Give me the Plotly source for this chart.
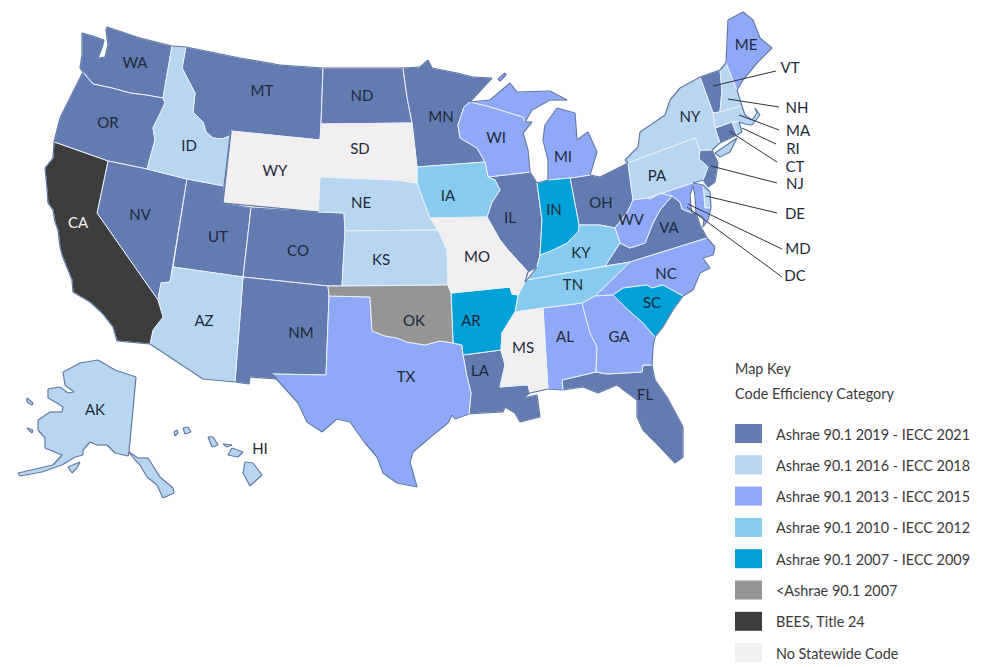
from collections import Counter

import plotly.graph_objects as go

# state outlines, in picture pixels
WA = [(82,33),(93,36),(104,40),(102,48),(98,58),(105,57),(108,45),(106,30),(107,27),(140,38),(172,46),(163,98),(146,95),(130,93),(112,88),(93,84),(88,78),(83,72),(80,68),(82,55)]
OR = [(83,72),(88,78),(93,84),(112,88),(130,93),(146,95),(163,98),(165,103),(162,110),(153,128),(155,140),(147,169),(108,161),(54,142),(60,118),(73,92)]
CA = [(54,142),(108,161),(97,213),(158,300),(163,317),(153,330),(150,344),(117,341),(113,327),(102,313),(90,302),(73,292),(72,280),(62,255),(60,247),(58,230),(55,222),(53,210),(48,203),(47,188),(45,168),(53,158)]
ID = [(172,46),(186,47),(182,68),(195,93),(193,112),(203,122),(206,132),(213,138),(222,139),(230,136),(224,186),(187,179),(147,169),(155,140),(153,128),(162,110),(165,103),(163,98)]
MT = [(186,47),(240,58),(280,65),(323,68),(321,124),(320,140),(231,131),(230,136),(222,139),(213,138),(206,132),(203,122),(193,112),(195,93),(182,68)]
WY = [(231,131),(320,140),(320,177),(318,212),(223,203)]
NV = [(108,161),(147,169),(187,179),(173,267),(170,282),(161,283),(158,300),(97,213)]
UT = [(187,179),(224,186),(223,203),(251,208),(243,277),(173,267)]
CO = [(251,208),(318,212),(344,213),(345,231),(342,286),(328,286),(243,277)]
AZ = [(173,267),(243,277),(235,382),(203,379),(150,344),(153,330),(163,317),(158,300),(161,283),(170,282)]
NM = [(243,277),(328,286),(329,296),(326,375),(272,374),(277,379),(250,377),(249,384),(235,382)]
TX = [(329,296),(370,297),(372,331),(385,336),(397,338),(407,342),(425,345),(440,341),(453,343),(462,345),(463,355),(467,377),(471,393),(469,414),(455,419),(452,415),(448,423),(433,435),(413,452),(410,462),(417,487),(397,483),(383,473),(377,457),(365,443),(350,422),(337,419),(322,432),(307,422),(298,403),(280,383),(272,374),(326,375)]
OK = [(328,286),(342,286),(448,285),(451,293),(453,343),(440,341),(425,345),(407,342),(397,338),(385,336),(372,331),(370,297),(329,296)]
KS = [(345,231),(438,230),(447,250),(448,285),(342,286)]
NE = [(320,177),(397,180),(417,183),(430,218),(438,230),(345,231),(344,213),(318,212)]
SD = [(321,124),(412,123),(417,167),(417,183),(397,180),(320,177),(320,140)]
ND = [(323,68),(403,68),(407,97),(412,123),(321,124)]
MN = [(403,68),(420,67),(428,60),(432,68),(457,73),(473,77),(492,78),(470,102),(464,107),(458,125),(460,138),(477,148),(485,162),(417,167),(412,123),(407,97)]
IA = [(417,167),(485,162),(488,177),(495,180),(500,190),(492,202),(487,217),(430,218),(417,183)]
MO = [(430,218),(487,217),(500,240),(508,250),(528,272),(525,282),(518,295),(512,294),(510,287),(451,293),(448,285),(447,250),(438,230)]
AR = [(451,293),(510,287),(512,294),(518,295),(515,312),(502,333),(501,350),(463,355),(462,345),(453,343)]
LA = [(463,355),(501,350),(505,365),(500,387),(525,385),(528,385),(530,393),(523,398),(537,395),(538,402),(540,417),(520,422),(515,413),(505,407),(503,412),(483,413),(469,414),(471,393),(467,377)]
MS = [(515,312),(543,308),(548,389),(530,393),(528,385),(525,385),(500,387),(505,365),(501,350),(502,333)]
WI = [(470,102),(487,106),(523,117),(525,122),(532,122),(523,133),(528,150),(530,172),(488,177),(485,162),(477,148),(460,138),(458,125),(464,107)]
MI = [(487,106),(470,102),(480,101),(490,100),(510,83),(517,92),(550,91),(567,100),(550,100),(532,110),(525,122),(523,117),None,
      (548,180),(548,160),(543,140),(545,125),(557,108),(575,113),(577,140),(588,132),(597,152),(590,175),(570,178),None,
      (498,79),(505,73),(506,75),(500,81)]
IL = [(488,177),(530,172),(537,183),(542,220),(540,255),(537,267),(528,272),(508,250),(500,240),(487,217),(492,202),(500,190),(495,180)]
IN = [(537,183),(548,180),(570,178),(579,225),(578,232),(567,243),(553,250),(540,255),(542,220)]
OH = [(570,178),(590,175),(600,177),(628,163),(633,200),(627,213),(615,228),(600,225),(579,225)]
KY = [(527,280),(537,267),(540,255),(553,250),(567,243),(578,232),(579,225),(600,225),(615,228),(620,243),(605,266)]
TN = [(527,280),(605,266),(630,262),(595,296),(582,303),(543,308),(515,312),(518,295),(525,282)]
AL = [(543,308),(582,303),(590,333),(597,347),(596,372),(562,380),(563,390),(548,389)]
GA = [(582,303),(595,296),(613,295),(625,307),(643,323),(655,337),(653,347),(652,365),(643,365),(642,372),(607,374),(596,372),(597,347),(590,333)]
FL = [(562,380),(596,372),(607,374),(642,372),(643,365),(652,365),(655,380),(667,397),(683,427),(683,457),(675,463),(660,447),(643,430),(637,417),(637,400),(617,385),(598,393),(583,387),(563,390)]
SC = [(613,295),(623,288),(647,285),(652,288),(663,285),(683,296),(673,310),(663,327),(655,337),(643,323),(625,307)]
NC = [(630,262),(707,238),(715,247),(713,255),(703,258),(710,268),(700,273),(693,290),(683,296),(663,285),(652,288),(647,285),(623,288),(613,295),(595,296)]
VA = [(605,266),(620,243),(630,248),(645,243),(653,223),(660,210),(672,196),(680,202),(682,209),(692,213),(696,213),(700,225),(707,238),(630,262)]
WV = [(633,200),(648,198),(650,199),(660,193),(672,196),(660,210),(653,223),(645,243),(630,248),(620,243),(615,228),(627,213)]
MD = [(648,198),(693,183),(703,185),(705,208),(711,208),(708,220),(703,227),(704,218),(696,213),(695,195),(693,186),(690,195),(691,207),(692,213),(682,209),(680,202),(672,196),(660,193),(650,199)]
DE = [(703,185),(710,192),(711,208),(705,208)]
PA = [(628,163),(695,138),(700,150),(699,159),(708,167),(703,180),(693,183),(648,198),(633,200)]
NJ = [(700,150),(712,150),(718,163),(715,182),(708,187),(703,180),(708,167),(699,159)]
NY = [(628,163),(625,160),(638,147),(640,132),(665,115),(670,100),(680,88),(700,77),(713,113),(715,128),(720,143),(712,150),(700,150),(695,138),None,
      (715,153),(737,138),(730,152),(720,157)]
CT = [(715,128),(732,122),(737,135),(720,143)]
RI = [(732,122),(739,122),(742,132),(737,135)]
MA = [(713,113),(720,112),(742,106),(745,115),(752,120),(757,113),(755,108),(760,115),(752,125),(745,124),(739,122),(732,122),(715,128)]
VT = [(700,77),(720,70),(722,90),(720,112),(713,113)]
NH = [(720,70),(726,63),(737,90),(742,106),(720,112),(722,90)]
ME = [(726,63),(728,20),(743,12),(753,20),(760,38),(772,48),(757,63),(743,80),(737,90)]
AK = [(63,372),(80,363),(98,360),(115,370),(136,377),(129,452),(135,460),(140,465),(147,477),(157,485),(163,498),(174,493),(173,488),(160,477),(148,458),(138,458),(129,452),(128,456),(115,453),(107,445),(97,445),(90,442),(83,450),(83,455),(75,457),(62,465),(42,472),(20,476),(18,473),(40,468),(53,465),(62,455),(57,453),(45,448),(45,438),(38,430),(38,420),(50,412),(62,412),(63,407),(57,403),(48,398),(48,389),(60,387),(68,393),(74,392),(65,385),None,
      (68,467),(80,462),(77,468),(72,473),None,
      (27,398),(33,403),(32,405),(27,402),None,
      (27,428),(33,430),(32,433)]
HI = [(174,432),(177,430),(178,433),(175,436),None,
      (183,428),(188,427),(191,432),(185,434),None,
      (208,437),(213,437),(218,445),(212,447),None,
      (223,444),(232,445),(227,447),None,
      (232,448),(243,452),(238,457),(228,455),None,
      (245,462),(253,463),(262,475),(250,486),(243,473)]

OUTLINES = {"WA": WA, "OR": OR, "CA": CA, "ID": ID, "MT": MT, "WY": WY, "NV": NV, "UT": UT, "CO": CO, "AZ": AZ,
            "NM": NM, "TX": TX, "OK": OK, "KS": KS, "NE": NE, "SD": SD, "ND": ND, "MN": MN, "IA": IA, "MO": MO,
            "AR": AR, "LA": LA, "MS": MS, "WI": WI, "MI": MI, "IL": IL, "IN": IN, "OH": OH, "KY": KY, "TN": TN,
            "AL": AL, "GA": GA, "FL": FL, "SC": SC, "NC": NC, "VA": VA, "WV": WV, "MD": MD, "DE": DE, "PA": PA,
            "NJ": NJ, "NY": NY, "CT": CT, "RI": RI, "MA": MA, "VT": VT, "NH": NH, "ME": ME, "AK": AK, "HI": HI}

# legend
categories = ["Ashrae 90.1 2019 - IECC 2021", "Ashrae 90.1 2016 - IECC 2018", "Ashrae 90.1 2013 - IECC 2015",
              "Ashrae 90.1 2010 - IECC 2012", "Ashrae 90.1 2007 - IECC 2009", "<Ashrae 90.1 2007",
              "BEES, Title 24", "No Statewide Code"]
colors = ["#637bb0", "#b8d6f0", "#90a8f8", "#87cbee", "#00a0d8", "#959595", "#3d3d3d", "#f1eff0"]
states_by_category = [
    ["WA", "OR", "NV", "UT", "CO", "NM", "MT", "ND", "MN", "IL", "OH", "VA", "LA", "FL", "VT", "CT", "NJ"],
    ["ID", "AZ", "NE", "KS", "NY", "PA", "AK", "HI", "NH", "MA", "RI", "DE"],
    ["TX", "WI", "MI", "ME", "WV", "NC", "AL", "GA", "MD"],
    ["IA", "KY", "TN"],
    ["IN", "AR", "SC"],
    ["OK"],
    ["CA"],
    ["WY", "SD", "MO", "MS"],
]

# labels sitting on the states
label_names = ["WA", "MT", "ND", "MN", "OR", "ID", "WY", "SD", "WI", "MI", "ME", "NY", "PA", "NE", "IA", "IL", "IN",
               "OH", "WV", "VA", "NV", "UT", "CO", "KS", "MO", "KY", "TN", "NC", "SC", "AR", "OK", "AZ", "NM", "AL",
               "GA", "MS", "LA", "TX", "FL", "AK", "HI"]
label_x = [135, 262, 362, 441, 108, 189, 275, 360, 496, 563, 746, 690, 657, 361, 448, 510, 554,
           601, 631, 669, 140, 218, 298, 381, 477, 581, 573, 666, 652, 471, 414, 204, 301, 565,
           619, 523, 480, 406, 645, 95, 260]
label_y = [64, 92, 97, 118, 124, 147, 172, 150, 139, 158, 46, 118, 177, 204, 197, 219, 211,
           204, 221, 229, 216, 238, 252, 261, 258, 254, 286, 275, 304, 322, 322, 322, 334, 338,
           338, 349, 372, 378, 396, 411, 450]

# small states labelled off the map with a leader line
leader_names = ["VT", "NH", "MA", "RI", "CT", "NJ", "DE", "MD", "DC"]
leader_from_x = [713, 728, 739, 742, 729, 711, 706, 688, 687]
leader_from_y = [86, 99, 115, 128, 131, 166, 196, 204, 207]
leader_to_x = [776, 779, 779, 776, 777, 777, 777, 782, 782]
leader_to_y = [71, 107, 130, 144, 162, 183, 213, 249, 277]
leader_label_x = [790, 797, 798, 793, 795, 795, 795, 798, 795]
leader_label_y = [69, 109, 132, 150, 168, 185, 215, 250, 277]

LABEL_FONT = dict(family="Lato", size=15, color="#1d2a3a")
KEY_FONT = dict(family="Lato", size=14.4, color="#3a3a3a")
COAST = "#5f78a6"


def split_rings(pts):
    rings = [[]]
    for p in pts:
        if p is None:
            rings.append([])
        else:
            rings[-1].append(p)
    return rings


fig = go.Figure()

for names, color in zip(states_by_category, colors):
    for name in names:
        xs, ys = [], []
        for ring in split_rings(OUTLINES[name]):
            xs += [p[0] for p in ring] + [ring[0][0], None]
            ys += [p[1] for p in ring] + [ring[0][1], None]
        fig.add_trace(go.Scatter(
            x=xs, y=ys, mode="lines", fill="toself", fillcolor=color,
            line=dict(color="#e9f1fa", width=1), name=name, showlegend=False, hoverinfo="name"))

# edges used by only one state are coast, they get the darker line
edges = Counter()
for pts in OUTLINES.values():
    for ring in split_rings(pts):
        for a, b in zip(ring, ring[1:] + ring[:1]):
            edges[tuple(sorted((a, b)))] += 1
coast_x, coast_y = [], []
for (a, b), n in edges.items():
    if n == 1:
        coast_x += [a[0], b[0], None]
        coast_y += [a[1], b[1], None]
fig.add_trace(go.Scatter(x=coast_x, y=coast_y, mode="lines", line=dict(color=COAST, width=1.2),
                         showlegend=False, hoverinfo="skip"))

# leader lines
line_x, line_y = [], []
for x0, y0, x1, y1 in zip(leader_from_x, leader_from_y, leader_to_x, leader_to_y):
    line_x += [x0, x1, None]
    line_y += [y0, y1, None]
fig.add_trace(go.Scatter(x=line_x, y=line_y, mode="lines", line=dict(color="#2b3340", width=1),
                         showlegend=False, hoverinfo="skip"))

fig.add_trace(go.Scatter(x=label_x, y=label_y, text=label_names, mode="text", textfont=LABEL_FONT,
                         showlegend=False, hoverinfo="skip"))
fig.add_trace(go.Scatter(x=[78], y=[224], text=["CA"], mode="text",
                         textfont=dict(family="Lato", size=15, color="#f2f2f2"),
                         showlegend=False, hoverinfo="skip"))
fig.add_trace(go.Scatter(x=leader_label_x, y=leader_label_y, text=leader_names, mode="text", textfont=LABEL_FONT,
                         showlegend=False, hoverinfo="skip"))

# map key
for i, (cat, color) in enumerate(zip(categories, colors)):
    y0 = 424 + i * 31.3
    fig.add_shape(type="rect", x0=735, x1=762, y0=y0, y1=y0 + 19, fillcolor=color, line_width=0, layer="below")
    fig.add_annotation(x=774, y=y0 + 10, text=cat.replace("<", "&lt;"), showarrow=False, xanchor="left", font=KEY_FONT)
fig.add_annotation(x=733, y=368, text="Map Key", showarrow=False, xanchor="left", font=KEY_FONT)
fig.add_annotation(x=733, y=393, text="Code Efficiency Category", showarrow=False, xanchor="left", font=KEY_FONT)

# the page keeps its 8px body margin, so the plot is 8px smaller and starts at 8
fig.update_layout(
    width=981, height=659, margin=dict(l=0, r=0, t=0, b=0),
    paper_bgcolor="white", plot_bgcolor="white", showlegend=False,
    xaxis=dict(range=[8, 989], visible=False, fixedrange=True),
    yaxis=dict(range=[667, 8], visible=False, fixedrange=True),
)
fig.write_html("out.html")
